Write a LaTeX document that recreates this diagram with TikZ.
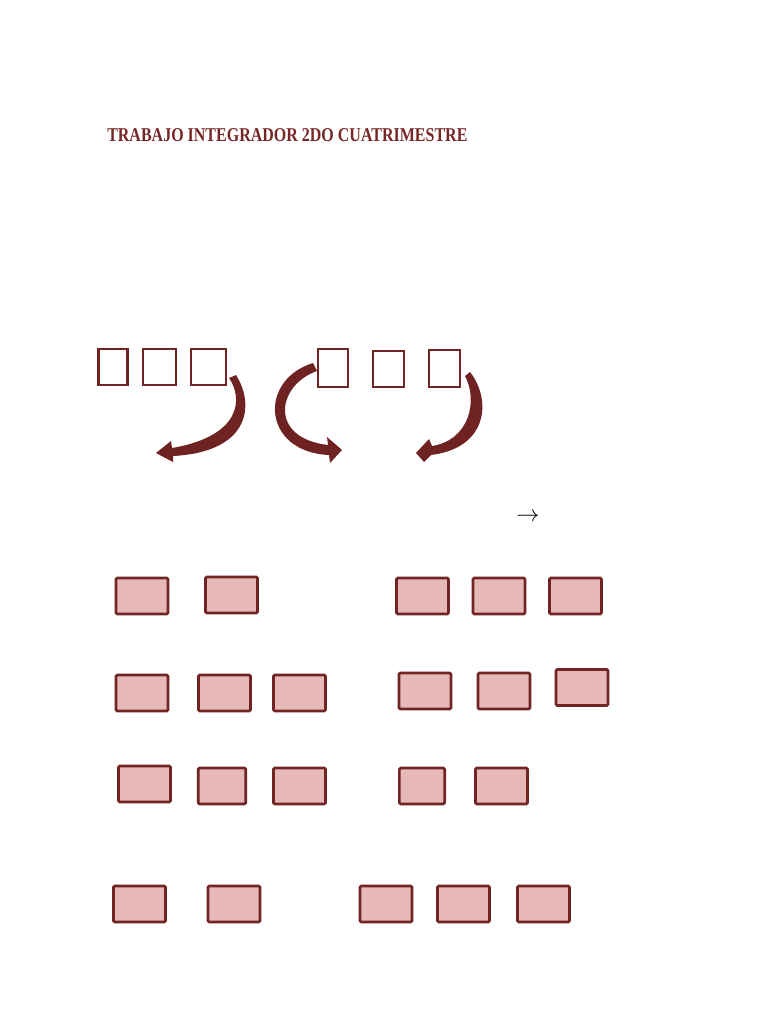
\documentclass[tikz,border=0pt]{standalone}
\usepackage{fontspec}
\setmainfont{Liberation Serif}
\usepackage{amsmath}
\usepackage{graphicx}
\usepackage{tikz}
\definecolor{borde}{RGB}{112, 36, 36}
\definecolor{relleno}{RGB}{230, 184, 184}
\definecolor{flecha}{RGB}{110, 34, 34}
\definecolor{titulo}{RGB}{118, 38, 38}
\tikzset{
  casilla/.style={draw=borde, line width=2.2pt, minimum width=22.5pt, minimum height=27pt, inner sep=0pt},
  tarjeta/.style={draw=borde, fill=relleno, line width=2pt, rounded corners=1pt, minimum width=39pt, minimum height=27pt, inner sep=0pt}
}
\begin{document}
\begin{tikzpicture}[x=0.75pt, y=-0.75pt]
        \useasboundingbox (0,0) rectangle (768,1024);

        % titulo
        \node[anchor=base west, text=titulo, font=\bfseries\fontsize{12}{14}\selectfont, inner sep=0pt] (tit) at (107,141.5) {\scalebox{1}[1.22]{TRABAJO INTEGRADOR 2DO CUATRIMESTRE}};

        % casillas vacias
        \node[casilla, minimum width=22pt] (v1) at (113,367) {};
        \node[casilla, minimum width=24.75pt] (v2) at (159.5,367) {};
        \node[casilla, minimum width=26.25pt] (v3) at (208.5,367) {};
        \node[casilla, minimum height=28.5pt] (v4) at (333,368) {};
        \node[casilla, minimum width=23.25pt] (v5) at (388.5,369) {};
        \node[casilla, minimum width=23.25pt, minimum height=27.75pt] (v6) at (444.5,368.5) {};

        % flechas curvas
        \fill[flecha] (229,378) .. controls (243,398) and (242,436) .. (172,448) -- (171,441) -- (156,453) -- (173,462) -- (173,456) .. controls (250,452) and (255,405) .. (236,375) -- cycle;
        \fill[flecha] (317,371) .. controls (277,385) and (268,438) .. (328,445) -- (327,437) -- (342,450) -- (330,463) -- (329,455) .. controls (262,452) and (258,380) .. (313,363) -- cycle;
        \fill[flecha] (465,376) .. controls (478,400) and (470,440) .. (432,446) -- (429,439) -- (416,453) -- (424,462) -- (431,455) .. controls (488,448) and (492,400) .. (470,372) -- cycle;

        % flecha chica
        \node[inner sep=0pt, font=\fontsize{17}{17}\selectfont] (fl) at (528,517) {$\rightarrow$};

        % fila 1
        \node[tarjeta] (c11) at (142,596) {};
        \node[tarjeta] (c12) at (231.5,595) {};
        \node[tarjeta] (c13) at (422.5,596) {};
        \node[tarjeta] (c14) at (499,596) {};
        \node[tarjeta] (c15) at (575.5,596) {};

        % fila 2
        \node[tarjeta] (c21) at (142,693) {};
        \node[tarjeta] (c22) at (224.5,693) {};
        \node[tarjeta] (c23) at (299.5,693) {};
        \node[tarjeta] (c24) at (425,691) {};
        \node[tarjeta] (c25) at (504,691) {};
        \node[tarjeta] (c26) at (582,687.5) {};

        % fila 3
        \node[tarjeta] (c31) at (144.5,784) {};
        \node[tarjeta, minimum width=35.6pt] (c32) at (222,786) {};
        \node[tarjeta] (c33) at (299.5,786) {};
        \node[tarjeta, minimum width=34pt] (c34) at (422,786) {};
        \node[tarjeta] (c35) at (501.5,786) {};

        % fila 4
        \node[tarjeta] (c41) at (139.5,904) {};
        \node[tarjeta] (c42) at (234,904) {};
        \node[tarjeta] (c43) at (386,904) {};
        \node[tarjeta] (c44) at (463.5,904) {};
        \node[tarjeta] (c45) at (543.5,904) {};
\end{tikzpicture}
\end{document}
